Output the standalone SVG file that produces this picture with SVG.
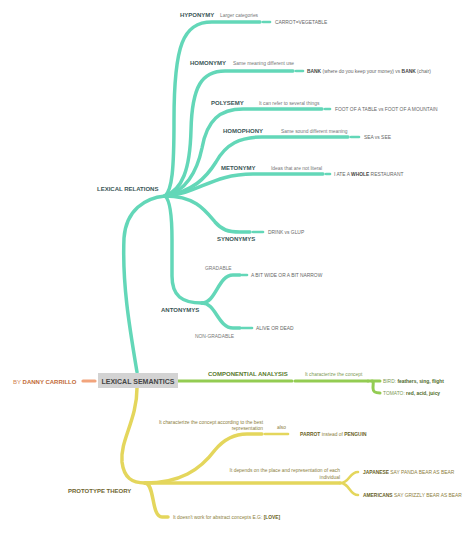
<svg xmlns="http://www.w3.org/2000/svg" width="474" height="535" viewBox="0 0 474 535">
<style>
text{font-family:"Liberation Sans",Arial,sans-serif;}
.c{fill:none;stroke-linecap:round;stroke-linejoin:round;}
.t{stroke:#63d7b8;stroke-width:3.5;}
.ts{stroke:#63d7b8;stroke-width:2.6;}
.g{stroke:#93cc52;stroke-width:3;}
.y{stroke:#e4d65c;stroke-width:3.5;}
.ys{stroke:#e4d65c;stroke-width:2.6;}
.o{stroke:#f2a47c;stroke-width:3.2;}
.lt{font-size:6px;font-weight:bold;fill:#3a5656;}
.vt{font-size:4.9px;fill:#666;}
.st{font-size:4.9px;fill:#777;}
.lg{font-size:6px;font-weight:bold;fill:#587a2c;}
.vg{font-size:4.9px;fill:#7d9a55;}
.bg{font-size:4.9px;font-weight:bold;fill:#4d6a2a;}
.ly{font-size:6px;font-weight:bold;fill:#6f6630;}
.vy{font-size:4.9px;fill:#8c8040;}
.by{font-weight:bold;fill:#6a5f25;}
</style>
<g id="connectors">
  <line class="c o" x1="83" y1="381" x2="95" y2="381"/>
  <path class="c t" d="M137,372 C 130,330 122,285 124,238 C 126,210 145,198 165,196"/>
  <path class="c t" d="M165,196 C 172,190 174,170 174,120 C 174,45 183,22 212,22 L 260,22"/>
  <line class="c ts" x1="263" y1="22" x2="270" y2="22"/>
  <path class="c t" d="M165,196 C 182,190 190,170 191,130 C 192,86 202,71 225,71 L 293,71"/>
  <line class="c ts" x1="296" y1="71" x2="303" y2="71"/>
  <path class="c t" d="M165,196 C 185,192 197,172 202,148 C 207,120 220,109 243,109 L 322,109"/>
  <line class="c ts" x1="325" y1="109" x2="330" y2="109"/>
  <path class="c t" d="M165,196 C 192,192 206,178 216,162 C 226,144 240,137 262,137 L 348,137"/>
  <line class="c ts" x1="351" y1="137" x2="359" y2="137"/>
  <path class="c t" d="M165,196 C 198,194 212,174 253,174 L 323,174"/>
  <line class="c ts" x1="326" y1="174" x2="330" y2="174"/>
  <path class="c t" d="M165,196 C 195,196 205,210 215,222 C 222,230 228,232 240,232 L 250,232"/>
  <line class="c ts" x1="253" y1="232" x2="263" y2="232"/>
  <path class="c t" d="M165,196 C 170,200 172,215 172,240 L 172,276 C 172,296 182,303 202,303"/>
  <path class="c t" d="M202,303 C 216,303 218,275 233,275 L 240,275"/>
  <line class="c ts" x1="242" y1="275" x2="247" y2="275"/>
  <path class="c t" d="M202,303 C 216,303 218,328 233,328 L 240,328"/>
  <line class="c ts" x1="242" y1="328" x2="252" y2="328"/>
  <line class="c g" x1="178" y1="381" x2="292" y2="381"/>
  <line class="c g" x1="295" y1="381" x2="368" y2="381"/>
  <path class="c g" d="M368,381 L 380,381"/>
  <path class="c g" d="M372,381 C 374,381 373,384 373,388 C 373,392 375,393 380,393"/>
  <path class="c y" d="M137,388 C 137,420 120,440 122,462 C 124,478 132,483 145,483"/>
  <path class="c y" d="M145,483 C 180,483 200,470 215,450 C 225,438 235,434 247,434 L 262,434"/>
  <line class="c ys" x1="265" y1="434" x2="288" y2="434"/>
  <path class="c y" d="M145,483 L 340,483"/>
  <path class="c ys" d="M340,483 C 350,483 349,472 358,472"/>
  <path class="c ys" d="M340,483 C 350,483 349,495 358,495"/>
  <path class="c y" d="M145,483 C 155,483 151,517 162,517 L 168,517"/>
</g>
<g id="central">
  <rect x="98" y="373" width="80" height="15" fill="#d3d3d3"/>
  <text x="138" y="383.5" text-anchor="middle" font-size="7" font-weight="bold" fill="#454545">LEXICAL SEMANTICS</text>
</g>
<g id="author">
  <text x="13" y="384" font-size="6" fill="#d08050">BY <tspan font-weight="bold" fill="#c26b38">DANNY CARRILLO</tspan></text>
</g>
<g id="lexical-relations">
  <text class="lt" x="97" y="191">LEXICAL RELATIONS</text>
</g>
<g id="hyponymy">
  <text class="lt" x="180" y="17">HYPONYMY</text>
  <text class="st" x="220" y="17">Larger categories</text>
  <text class="vt" x="275" y="24">CARROT=VEGETABLE</text>
</g>
<g id="homonymy">
  <text class="lt" x="190" y="65">HOMONYMY</text>
  <text class="st" x="233" y="65">Same meaning different use</text>
  <text class="vt" x="307" y="73"><tspan font-weight="bold" fill="#444">BANK</tspan> (where do you keep your money) vs <tspan font-weight="bold" fill="#444">BANK</tspan> (chair)</text>
</g>
<g id="polysemy">
  <text class="lt" x="211" y="105">POLYSEMY</text>
  <text class="st" x="259" y="105">It can refer to several things</text>
  <text class="vt" x="335" y="111">FOOT OF A TABLE vs FOOT OF A MOUNTAIN</text>
</g>
<g id="homophony">
  <text class="lt" x="223" y="133">HOMOPHONY</text>
  <text class="st" x="281" y="133">Same sound different meaning</text>
  <text class="vt" x="364" y="139">SEA vs SEE</text>
</g>
<g id="metonymy">
  <text class="lt" x="221" y="170">METONYMY</text>
  <text class="st" x="271" y="170">Ideas that are not literal</text>
  <text class="vt" x="334" y="176">I ATE A <tspan font-weight="bold" fill="#444">WHOLE</tspan> RESTAURANT</text>
</g>
<g id="synonyms">
  <text class="lt" x="217" y="241">SYNONYMYS</text>
  <text class="vt" x="268" y="234">DRINK vs GLUP</text>
</g>
<g id="antonyms">
  <text class="lt" x="161" y="312">ANTONYMYS</text>
  <text class="st" x="205" y="270">GRADABLE</text>
  <text class="vt" x="251" y="277">A BIT WIDE OR A BIT NARROW</text>
  <text class="st" x="195" y="338">NON-GRADABLE</text>
  <text class="vt" x="256" y="330">ALIVE OR DEAD</text>
</g>
<g id="componential-analysis">
  <text class="lg" x="208" y="376">COMPONENTIAL ANALYSIS</text>
  <text class="vg" x="305" y="376">It characterize the concept</text>
  <text class="vg" x="383" y="383">BIRD: <tspan class="bg">feathers, sing, flight</tspan></text>
  <text class="vg" x="383" y="395">TOMATO: <tspan class="bg">red, acid, juicy</tspan></text>
</g>
<g id="prototype-theory">
  <text class="ly" x="68" y="493">PROTOTYPE THEORY</text>
  <text class="vy" x="263" y="424" text-anchor="end">It characterize the concept according to the best</text>
  <text class="vy" x="263" y="430" text-anchor="end">representation</text>
  <text class="vy" x="277" y="429">also</text>
  <text class="vy" x="300" y="436"><tspan class="by">PARROT</tspan> instead of <tspan class="by">PENGUIN</tspan></text>
  <text class="vy" x="340" y="472" text-anchor="end">It depends on the place and representation of each</text>
  <text class="vy" x="340" y="479" text-anchor="end">individual</text>
  <text class="vy" x="363" y="474"><tspan class="by">JAPANESE</tspan> SAY PANDA BEAR AS BEAR</text>
  <text class="vy" x="363" y="497"><tspan class="by">AMERICANS</tspan> SAY GRIZZLY BEAR AS BEAR</text>
  <text class="vy" x="173" y="519">It doesn't work for abstract concepts E.G: <tspan class="by">[LOVE]</tspan></text>
</g>
</svg>
